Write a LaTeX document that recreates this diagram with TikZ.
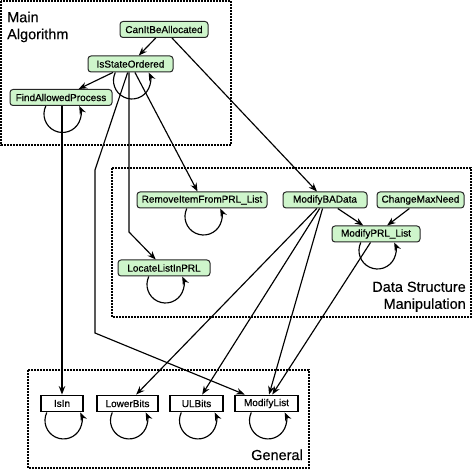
\documentclass[tikz,border=0pt]{standalone}
\usepackage{fontspec}
\setmainfont{Liberation Sans}
\newfontfamily\nodefont[FakeBold=0.6]{Liberation Sans}
\newfontfamily\labelfont[FakeBold=0.4]{Liberation Sans}
\usetikzlibrary{arrows.meta}
\definecolor{nodegreen}{RGB}{206,245,203}
\newcommand\selfloop[1]{\draw[edge] ([xshift=-15.2pt]#1.south) arc[start angle=154.4,end angle=385.6,radius=18.5pt];}
\begin{document}
\begin{tikzpicture}[x=1pt,y=-1pt,
  every node/.style={font=\nodefont\fontsize{10}{12}\selectfont},
  gnode/.style={draw=black!85, fill=nodegreen, rounded corners=3pt, line width=1pt, minimum height=16pt, inner sep=0pt},
  wnode/.style={draw=black, fill=white, line width=1.4pt, minimum height=16.5pt, inner sep=0pt},
  edge/.style={line width=1.15pt, -{Stealth[length=8.5pt,width=6.5pt,inset=2.8pt]}},
  cluster/.style={line width=2pt, dash pattern=on 1.6pt off 1.4pt},
  biglabel/.style={font=\labelfont\fontsize{14.5}{17}\selectfont, inner sep=0pt}
]
\useasboundingbox (0,0) rectangle (474,470);
% clusters
\draw[cluster] (1,1) rectangle (231,145);
\draw[cluster] (112,168) rectangle (471,317);
\draw[cluster] (28,370) rectangle (309,468);
% cluster labels
\node[biglabel, anchor=north west, align=left] (lmain) at (7,11.5) {Main\\Algorithm};
\node[biglabel, anchor=north east, align=right] (lds) at (466,281.5) {Data Structure\\Manipulation};
\node[biglabel, anchor=base east] (lgen) at (303,460) {General};
% nodes
\node[gnode, minimum width=88pt] (cba) at (164,29.5) {CanItBeAllocated};
\node[gnode, minimum width=85pt] (iso) at (130.5,64) {IsStateOrdered};
\node[gnode, minimum width=102pt] (fap) at (61,97.5) {FindAllowedProcess};
\node[gnode, minimum width=130pt] (rem) at (202,200) {RemoveItemFromPRL\_List};
\node[gnode, minimum width=84pt] (mba) at (325,200) {ModifyBAData};
\node[gnode, minimum width=87pt] (cmn) at (420.5,200) {ChangeMaxNeed};
\node[gnode, minimum width=88pt] (mprl) at (376,234) {ModifyPRL\_List};
\node[gnode, minimum width=92pt] (loc) at (164,268) {LocateListInPRL};
\node[wnode, minimum width=42pt] (isin) at (62,403.5) {IsIn};
\node[wnode, minimum width=61pt] (lb) at (127.5,403.5) {LowerBits};
\node[wnode, minimum width=53pt] (ulb) at (196.5,403.5) {ULBits};
\node[wnode, minimum width=63pt] (ml) at (266.5,403.5) {ModifyList};
% bend points
\coordinate (b1) at (129,232);
\coordinate (b2) at (95,170);
\coordinate (b3) at (95,333);
% edges
\draw[edge] (cba) -- (iso);
\draw[edge] (cba) -- (mba);
\draw[edge] (iso) -- (fap);
\draw[edge] (iso) -- (rem);
\draw[edge] (iso.south -| b1) -- (b1) -- (loc);
\draw[edge] (iso) -- (b2) -- (b3) -- (ml);
\draw[edge] (fap.south -| isin) -- (isin);
\draw[edge] (mba) -- (mprl);
\draw[edge] (cmn) -- (mprl);
\draw[edge] (mba) -- (lb);
\draw[edge] (mba) -- (ulb);
\draw[edge] (mba) -- (ml);
\draw[edge] (mprl) -- (ml);
% self loops
\selfloop{iso}
\selfloop{fap}
\selfloop{rem}
\selfloop{loc}
\selfloop{mprl}
\selfloop{isin}
\selfloop{lb}
\selfloop{ulb}
\selfloop{ml}
\end{tikzpicture}
\end{document}
